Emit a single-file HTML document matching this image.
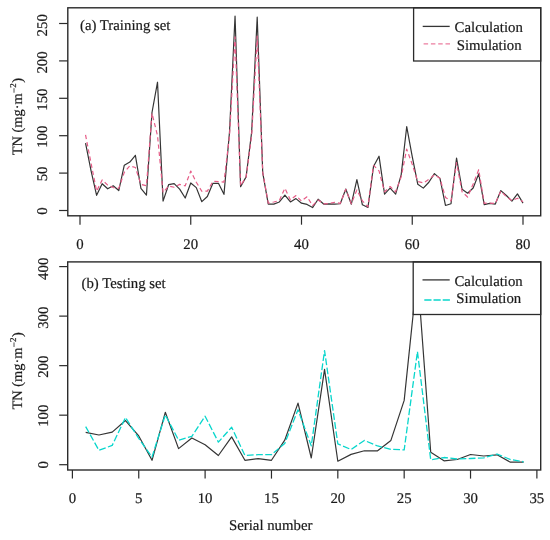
<!DOCTYPE html>
<html><head><meta charset="utf-8"><title>TN plot</title>
<style>
html,body{margin:0;padding:0;background:#fff;}
body{width:550px;height:540px;overflow:hidden;}
svg{display:block;text-rendering:geometricPrecision;font-family:"Liberation Serif", "Times New Roman", serif;fill:#1a1a1a;}
svg text{fill:#1a1a1a;stroke:#1a1a1a;stroke-width:0.2px;}
</style></head><body>
<svg width="550" height="540" viewBox="0 0 550 540">
<rect width="550" height="540" fill="#fff"/>
<defs><clipPath id="ca"><rect x="67.8" y="7.8" width="472.9" height="208"/></clipPath><clipPath id="cb"><rect x="67.7" y="261.9" width="473" height="208.1"/></clipPath></defs>
<polyline points="85.54,143.03 91.08,170.86 96.61,195.32 102.15,183.72 107.69,188.81 113.22,185.82 118.76,190.53 124.30,165.17 129.84,162.03 135.38,155.30 140.91,188.28 146.45,195.02 151.99,112.51 157.52,82.22 163.06,201.08 168.60,184.69 174.14,183.57 179.68,189.11 185.21,198.01 190.75,182.97 196.29,187.61 201.82,201.67 207.36,196.44 212.90,183.35 218.44,183.35 223.97,194.34 229.51,131.96 235.05,16.09 240.59,186.71 246.12,176.84 251.66,131.96 257.20,17.22 262.74,172.80 268.27,204.14 273.81,204.14 279.35,201.97 284.89,195.02 290.42,201.97 295.96,198.61 301.50,203.17 307.04,204.44 312.57,207.58 318.11,199.21 323.65,204.07 329.19,203.92 334.73,204.07 340.26,203.77 345.80,189.03 351.34,204.22 356.88,179.53 362.41,204.82 367.95,207.43 373.49,166.59 379.02,156.20 384.56,194.12 390.10,188.13 395.64,194.12 401.17,174.82 406.71,126.72 412.25,156.64 417.79,184.32 423.32,188.13 428.86,182.23 434.40,173.62 439.94,178.34 445.47,205.49 451.01,203.77 456.55,158.14 462.09,189.33 467.62,193.22 473.16,188.06 478.70,173.85 484.24,204.67 489.77,203.32 495.31,204.07 500.85,190.60 506.39,195.54 511.92,201.08 517.46,193.89 523.00,203.09" fill="none" stroke="#353535" stroke-width="1.2" stroke-linejoin="round" clip-path="url(#ca)"/>
<polyline points="85.54,134.95 91.08,163.38 96.61,191.05 102.15,179.98 107.69,185.07 113.22,187.54 118.76,188.36 124.30,172.35 129.84,165.84 135.38,167.49 140.91,184.32 146.45,185.82 151.99,113.26 157.52,135.70 163.06,192.55 168.60,186.04 174.14,187.24 179.68,184.39 185.21,185.82 190.75,171.08 196.29,182.23 201.82,191.28 207.36,191.13 212.90,181.40 218.44,181.63 223.97,182.08 229.51,135.70 235.05,36.96 240.59,185.82 246.12,176.84 251.66,135.70 257.20,36.22 262.74,172.35 268.27,203.09 273.81,201.97 279.35,200.55 284.89,188.28 290.42,200.03 295.96,195.54 301.50,201.00 307.04,196.66 312.57,205.56 318.11,200.03 323.65,203.92 329.19,203.47 334.73,202.27 340.26,203.32 345.80,189.26 351.34,203.77 356.88,189.93 362.41,200.93 367.95,206.76 373.49,165.32 379.02,170.86 384.56,191.80 390.10,186.56 395.64,191.80 401.17,176.84 406.71,149.16 412.25,164.42 417.79,181.48 423.32,182.97 428.86,179.31 434.40,174.82 439.94,178.34 445.47,197.41 451.01,200.93 456.55,162.63 462.09,191.87 467.62,197.04 473.16,184.02 478.70,169.73 484.24,203.32 489.77,203.09 495.31,203.47 500.85,191.13 506.39,196.66 511.92,200.55 517.46,198.31 523.00,201.67" fill="none" stroke="#e65c87" stroke-width="1.2" stroke-linejoin="round" stroke-dasharray="4.3 3" clip-path="url(#ca)"/>
<rect x="413.6" y="7.8" width="127.1" height="53.2" fill="#fff" stroke="#2b2b2b" stroke-width="1.3"/>
<line x1="422.7" y1="26.4" x2="449.7" y2="26.4" stroke="#353535" stroke-width="1.3"/>
<line x1="423.6" y1="43.9" x2="450.2" y2="43.9" stroke="#e65c87" stroke-width="1.2" stroke-opacity="0.8" stroke-dasharray="4.5 2.8"/>
<text x="454.6" y="32.4" font-size="14.8">Calculation</text>
<text x="456.7" y="49.8" font-size="14.8">Simulation</text>
<text x="80" y="29.5" font-size="14.8">(a) Training set</text>
<rect x="67.8" y="7.8" width="472.9" height="208.0" fill="none" stroke="#2b2b2b" stroke-width="1.4"/>
<line x1="80.00" y1="215.8" x2="80.00" y2="224.7" stroke="#2b2b2b" stroke-width="1.2"/>
<text x="80.00" y="249.1" font-size="14.8" text-anchor="middle">0</text>
<line x1="190.75" y1="215.8" x2="190.75" y2="224.7" stroke="#2b2b2b" stroke-width="1.2"/>
<text x="190.75" y="249.1" font-size="14.8" text-anchor="middle">20</text>
<line x1="301.50" y1="215.8" x2="301.50" y2="224.7" stroke="#2b2b2b" stroke-width="1.2"/>
<text x="301.50" y="249.1" font-size="14.8" text-anchor="middle">40</text>
<line x1="412.25" y1="215.8" x2="412.25" y2="224.7" stroke="#2b2b2b" stroke-width="1.2"/>
<text x="412.25" y="249.1" font-size="14.8" text-anchor="middle">60</text>
<line x1="523.00" y1="215.8" x2="523.00" y2="224.7" stroke="#2b2b2b" stroke-width="1.2"/>
<text x="523.00" y="249.1" font-size="14.8" text-anchor="middle">80</text>
<line x1="59.1" y1="210.50" x2="67.8" y2="210.50" stroke="#2b2b2b" stroke-width="1.2"/>
<text transform="translate(46.9 211.10) rotate(-90)" font-size="14.8" text-anchor="middle">0</text>
<line x1="59.1" y1="173.10" x2="67.8" y2="173.10" stroke="#2b2b2b" stroke-width="1.2"/>
<text transform="translate(46.9 173.94) rotate(-90)" font-size="14.8" text-anchor="middle">50</text>
<line x1="59.1" y1="135.70" x2="67.8" y2="135.70" stroke="#2b2b2b" stroke-width="1.2"/>
<text transform="translate(46.9 136.78) rotate(-90)" font-size="14.8" text-anchor="middle">100</text>
<line x1="59.1" y1="98.30" x2="67.8" y2="98.30" stroke="#2b2b2b" stroke-width="1.2"/>
<text transform="translate(46.9 99.62) rotate(-90)" font-size="14.8" text-anchor="middle">150</text>
<line x1="59.1" y1="60.90" x2="67.8" y2="60.90" stroke="#2b2b2b" stroke-width="1.2"/>
<text transform="translate(46.9 62.46) rotate(-90)" font-size="14.8" text-anchor="middle">200</text>
<line x1="59.1" y1="23.50" x2="67.8" y2="23.50" stroke="#2b2b2b" stroke-width="1.2"/>
<text transform="translate(46.9 25.30) rotate(-90)" font-size="14.8" text-anchor="middle">250</text>
<polyline points="85.67,432.41 98.94,434.99 112.21,432.11 125.48,420.52 138.75,435.98 152.03,460.29 165.30,412.30 178.57,448.60 191.84,437.91 205.11,444.69 218.38,455.49 231.65,436.92 244.92,460.29 258.19,458.61 271.47,460.29 284.74,440.19 298.01,403.09 311.28,458.01 324.55,369.41 337.82,461.23 351.09,454.40 364.36,450.78 377.63,450.78 390.90,440.43 404.18,400.42 417.45,273.04 430.72,452.32 443.99,460.84 457.26,459.50 470.53,454.50 483.80,455.98 497.07,454.79 510.34,462.22 523.61,462.22" fill="none" stroke="#353535" stroke-width="1.2" stroke-linejoin="round" clip-path="url(#cb)"/>
<polyline points="85.67,426.57 98.94,450.34 112.21,445.39 125.48,417.50 138.75,438.45 152.03,457.02 165.30,414.88 178.57,440.19 191.84,436.32 205.11,416.22 218.38,442.12 231.65,427.21 244.92,455.49 258.19,454.70 271.47,454.70 284.74,443.40 298.01,409.78 311.28,445.88 324.55,350.59 337.82,443.90 351.09,449.50 364.36,440.43 377.63,445.98 390.90,449.35 404.18,449.89 417.45,351.54 430.72,459.85 443.99,457.52 457.26,459.00 470.53,458.51 483.80,457.82 497.07,454.00 510.34,459.50 523.61,461.78" fill="none" stroke="#08d6cc" stroke-width="1.3" stroke-linejoin="round" stroke-dasharray="6.8 2.4" clip-path="url(#cb)"/>
<rect x="413.2" y="261.9" width="127.5" height="52.6" fill="#fff" stroke="#2b2b2b" stroke-width="1.3"/>
<line x1="422.5" y1="279.9" x2="449.7" y2="279.9" stroke="#353535" stroke-width="1.3"/>
<line x1="424.3" y1="300" x2="450.2" y2="300" stroke="#08d6cc" stroke-width="1.4" stroke-dasharray="7.2 2"/>
<text x="454.5" y="285.8" font-size="14.8">Calculation</text>
<text x="456.3" y="303.2" font-size="14.8">Simulation</text>
<text x="81.5" y="287.7" font-size="14.8">(b) Testing set</text>
<rect x="67.7" y="261.9" width="473.0" height="208.1" fill="none" stroke="#2b2b2b" stroke-width="1.4"/>
<line x1="72.40" y1="470.0" x2="72.40" y2="478.6" stroke="#2b2b2b" stroke-width="1.2"/>
<text x="72.40" y="502.7" font-size="14.8" text-anchor="middle">0</text>
<line x1="138.75" y1="470.0" x2="138.75" y2="478.6" stroke="#2b2b2b" stroke-width="1.2"/>
<text x="138.75" y="502.7" font-size="14.8" text-anchor="middle">5</text>
<line x1="205.11" y1="470.0" x2="205.11" y2="478.6" stroke="#2b2b2b" stroke-width="1.2"/>
<text x="205.11" y="502.7" font-size="14.8" text-anchor="middle">10</text>
<line x1="271.47" y1="470.0" x2="271.47" y2="478.6" stroke="#2b2b2b" stroke-width="1.2"/>
<text x="271.47" y="502.7" font-size="14.8" text-anchor="middle">15</text>
<line x1="337.82" y1="470.0" x2="337.82" y2="478.6" stroke="#2b2b2b" stroke-width="1.2"/>
<text x="337.82" y="502.7" font-size="14.8" text-anchor="middle">20</text>
<line x1="404.18" y1="470.0" x2="404.18" y2="478.6" stroke="#2b2b2b" stroke-width="1.2"/>
<text x="404.18" y="502.7" font-size="14.8" text-anchor="middle">25</text>
<line x1="470.53" y1="470.0" x2="470.53" y2="478.6" stroke="#2b2b2b" stroke-width="1.2"/>
<text x="470.53" y="502.7" font-size="14.8" text-anchor="middle">30</text>
<line x1="536.88" y1="470.0" x2="536.88" y2="478.6" stroke="#2b2b2b" stroke-width="1.2"/>
<text x="536.88" y="502.7" font-size="14.8" text-anchor="middle">35</text>
<line x1="59.2" y1="464.70" x2="67.7" y2="464.70" stroke="#2b2b2b" stroke-width="1.2"/>
<text transform="translate(47.8 464.70) rotate(-90)" font-size="14.8" text-anchor="middle">0</text>
<line x1="59.2" y1="415.17" x2="67.7" y2="415.17" stroke="#2b2b2b" stroke-width="1.2"/>
<text transform="translate(47.8 415.72) rotate(-90)" font-size="14.8" text-anchor="middle">100</text>
<line x1="59.2" y1="365.65" x2="67.7" y2="365.65" stroke="#2b2b2b" stroke-width="1.2"/>
<text transform="translate(47.8 366.75) rotate(-90)" font-size="14.8" text-anchor="middle">200</text>
<line x1="59.2" y1="316.12" x2="67.7" y2="316.12" stroke="#2b2b2b" stroke-width="1.2"/>
<text transform="translate(47.8 317.77) rotate(-90)" font-size="14.8" text-anchor="middle">300</text>
<line x1="59.2" y1="266.60" x2="67.7" y2="266.60" stroke="#2b2b2b" stroke-width="1.2"/>
<text transform="translate(47.8 268.80) rotate(-90)" font-size="14.8" text-anchor="middle">400</text>
<text transform="translate(22.4 155.30) rotate(-90)" font-size="14.4">TN (mg·m<tspan font-size="9" dy="-5" dx="0.3">−</tspan><tspan font-size="9" dy="-1.5" dx="0.2">2</tspan><tspan dy="6.5" dx="0.6">)</tspan></text>
<text transform="translate(22.4 409.50) rotate(-90)" font-size="14.4">TN (mg·m<tspan font-size="9" dy="-5" dx="0.3">−</tspan><tspan font-size="9" dy="-1.5" dx="0.2">2</tspan><tspan dy="6.5" dx="0.6">)</tspan></text>
<text x="229" y="529.6" font-size="14.8">Serial number</text>
</svg>
</body></html>
